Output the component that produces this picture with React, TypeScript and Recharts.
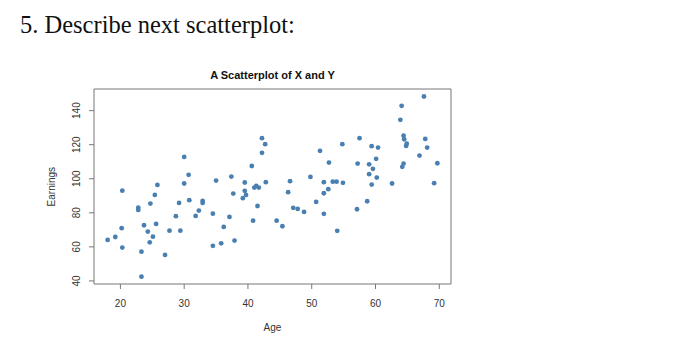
import { ScatterChart, Scatter, XAxis, YAxis, ReferenceArea } from 'recharts';

// values, one entry per point
const ages = [
  18.0, 19.2, 20.2, 20.3, 20.3, 22.8, 22.8, 23.3, 23.3, 23.7,
  24.3, 24.6, 24.7, 25.1, 25.4, 25.6, 25.8, 27.0, 27.7, 28.7,
  29.2, 29.4, 30.0, 30.0, 30.7, 30.8, 31.8, 32.3, 32.9, 32.9,
  34.5, 34.5, 35.0, 35.8, 36.2, 37.1, 37.4, 37.7, 37.9, 39.2,
  39.5, 39.5, 39.7, 40.6, 40.8, 41.0, 41.3, 41.7, 41.5, 42.2,
  42.7, 42.2, 42.8, 44.5, 45.4, 46.3, 46.6, 47.1, 47.8, 48.8,
  49.8, 50.7, 51.3, 51.9, 51.9, 51.9, 52.7, 52.6, 53.3, 53.9,
  54.0, 54.8, 54.9, 57.1, 57.2, 57.5, 58.7, 59.0, 59.0, 59.4,
  59.4, 59.6, 60.1, 60.2, 60.4, 62.6, 63.9, 64.1, 64.2, 64.4,
  64.4, 64.5, 64.9, 64.8, 66.9, 67.6, 67.8, 68.1, 69.2, 69.7,
];
const earnings = [
  64.1, 65.8, 71.0, 59.6, 93.0, 83.0, 81.7, 57.2, 42.5, 72.7,
  69.0, 62.7, 85.4, 66.0, 90.5, 73.5, 96.4, 55.3, 69.5, 78.0,
  85.8, 69.5, 97.2, 112.8, 102.3, 87.4, 78.2, 81.3, 87.0, 85.8,
  79.5, 60.6, 98.9, 62.1, 71.7, 77.6, 101.3, 91.3, 63.7, 88.6,
  92.9, 97.8, 90.5, 107.5, 75.4, 94.8, 95.8, 94.8, 84.0, 123.8,
  120.3, 115.2, 98.0, 75.4, 72.1, 92.1, 98.6, 82.9, 82.3, 80.5,
  101.1, 86.4, 116.4, 98.0, 91.5, 79.4, 109.5, 93.9, 98.3, 98.3,
  69.4, 120.3, 97.6, 82.1, 108.9, 123.8, 86.8, 108.5, 102.7, 96.6,
  119.1, 105.8, 111.7, 100.7, 118.3, 97.2, 134.6, 142.8, 107.0, 108.9,
  125.3, 123.2, 120.6, 119.3, 113.6, 148.3, 123.4, 118.3, 97.4, 109.1,
];
const xTicks = [20, 30, 40, 50, 60, 70];
const yTicks = [40, 60, 80, 100, 120, 140];

const points = ages.map((age, i) => ({ age, earnings: earnings[i] }));

const X_DOMAIN: [number, number] = [15.86, 71.84];
const Y_DOMAIN: [number, number] = [38.2, 152.7];

const axisColor = '#777';
const textColor = '#333';
const dotColor = '#4a7fb1';
const font = 'Liberation Sans, Arial, sans-serif';

function YTick(props: any) {
  const { y, payload } = props;
  const cx = 80.5;
  return (
    <text
      x={cx}
      y={y}
      transform={`rotate(-90, ${cx}, ${y})`}
      textAnchor="middle"
      fontSize={10}
      fontFamily={font}
      fill={textColor}
    >
      {payload.value}
    </text>
  );
}

function Dot(props: any) {
  return <circle cx={props.cx} cy={props.cy} r={2.4} fill={dotColor} />;
}

export default function App() {
  return (
    <div style={{ position: 'absolute', left: 0, top: 0, width: 700, height: 353, background: '#fff' }}>
      <ScatterChart
        width={700}
        height={353}
        margin={{ top: 89, right: 249, bottom: 39, left: 64 }}
      >
        <XAxis
          type="number"
          dataKey="age"
          domain={X_DOMAIN}
          ticks={xTicks}
          allowDataOverflow
          axisLine={false}
          tickLine={{ stroke: axisColor }}
          tickSize={5}
          tickMargin={11}
          height={30}
          tick={{ fontSize: 10, fontFamily: font, fill: textColor }}
        />
        <YAxis
          type="number"
          dataKey="earnings"
          domain={Y_DOMAIN}
          ticks={yTicks}
          allowDataOverflow
          axisLine={false}
          tickLine={{ stroke: axisColor }}
          tickSize={5}
          width={30}
          tick={<YTick />}
        />
        <ReferenceArea
          x1={X_DOMAIN[0]}
          x2={X_DOMAIN[1]}
          y1={Y_DOMAIN[0]}
          y2={Y_DOMAIN[1]}
          fill="none"
          stroke={axisColor}
          strokeWidth={1}
        />
        <Scatter data={points} fill={dotColor} shape={<Dot />} isAnimationActive={false} />
      </ScatterChart>
      <svg
        width={700}
        height={353}
        style={{ position: 'absolute', left: 0, top: 0, pointerEvents: 'none' }}
      >
        <text x={20} y={33} fontSize={24.5} fontFamily="Liberation Serif, Times New Roman, serif" fill="#111">
          5. Describe next scatterplot:
        </text>
        <text x={272.5} y={78.7} textAnchor="middle" fontSize={11} fontWeight="bold" fontFamily={font} fill="#111">
          A Scatterplot of X and Y
        </text>
        <text x={272.5} y={331} textAnchor="middle" fontSize={10} fontFamily={font} fill={textColor}>
          Age
        </text>
        <text
          x={55}
          y={186.7}
          transform="rotate(-90, 55, 186.7)"
          textAnchor="middle"
          fontSize={10}
          fontFamily={font}
          fill={textColor}
        >
          Earnings
        </text>
      </svg>
    </div>
  );
}
